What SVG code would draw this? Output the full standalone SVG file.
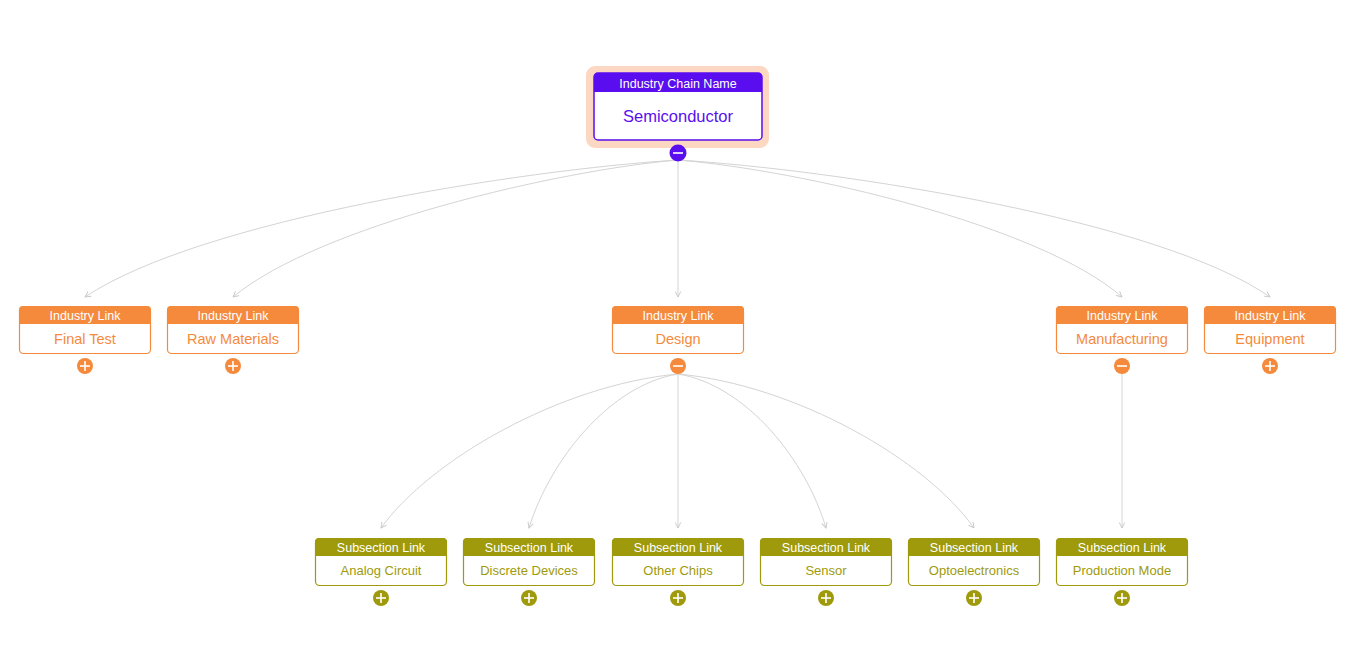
<svg xmlns="http://www.w3.org/2000/svg" width="1358" height="664" viewBox="0 0 1358 664">
<style>
text{font-family:"Liberation Sans",Arial,sans-serif;text-anchor:middle}
.e{fill:none;stroke:#d4d4d4;stroke-width:1}
.ih{fill:#f58a3d}.ib{fill:#fff;stroke:#f58a3d;stroke-width:1.2}
.sh{fill:#9e9a0c}.sb{fill:#fff;stroke:#9e9a0c;stroke-width:1.2}
.ht{fill:#fff;font-size:12.5px}
.it{fill:#f58a3d;font-size:14.5px}
.st{fill:#9e9a0c;font-size:13px}
.bl{stroke:#fff;stroke-width:1.6}
</style>
<defs>
<marker id="a" viewBox="0 0 10 10" refX="9" refY="5" markerWidth="7" markerHeight="7" orient="auto"><path d="M1,1 L9,5 L1,9" fill="none" stroke="#c8c8c8" stroke-width="1.3"/></marker>
<g id="plus"><line class="bl" x1="-5" y1="0" x2="5" y2="0"/><line class="bl" x1="0" y1="-5" x2="0" y2="5"/></g>
</defs>
<g id="connectors">
<path class="e" marker-end="url(#a)" d="M678,160 C520,170 200,220 85,297"/>
<path class="e" marker-end="url(#a)" d="M678,160 C560,170 320,225 233,297"/>
<path class="e" marker-end="url(#a)" d="M678,160 L678,297"/>
<path class="e" marker-end="url(#a)" d="M678,160 C800,170 1040,225 1122,297"/>
<path class="e" marker-end="url(#a)" d="M678,160 C840,170 1160,220 1270,297"/>
<path class="e" marker-end="url(#a)" d="M678,374 C560,385 430,460 381,528"/>
<path class="e" marker-end="url(#a)" d="M678,374 C610,385 550,460 529,528"/>
<path class="e" marker-end="url(#a)" d="M678,374 L678,528"/>
<path class="e" marker-end="url(#a)" d="M678,374 C746,385 806,460 826,528"/>
<path class="e" marker-end="url(#a)" d="M678,374 C796,385 926,460 974,528"/>
<path class="e" marker-end="url(#a)" d="M1122,374 L1122,528"/>
</g>
<g id="root">
<rect x="586" y="66" width="183" height="82" rx="9" fill="#fcd8c2"/>
<rect x="594" y="73" width="168" height="67" rx="4" fill="#fff" stroke="#5a0ef0" stroke-width="1.5"/>
<path d="M594,92 V77 a4,4 0 0 1 4,-4 H758 a4,4 0 0 1 4,4 V92 Z" fill="#5a0ef0"/>
<text class="ht" x="678" y="88">Industry Chain Name</text>
<text x="678" y="122" fill="#5a0ef0" font-size="16.5">Semiconductor</text>
<circle cx="678" cy="153" r="8.5" fill="#5a0ef0"/><line class="bl" x1="673" y1="153" x2="683" y2="153"/>
</g>
<g id="n-final-test">
<rect class="ib" x="19.5" y="306.5" width="131" height="47" rx="4"/><path class="ih" d="M19,324 V310 a4,4 0 0 1 4,-4 H147 a4,4 0 0 1 4,4 V324 Z"/>
<text class="ht" x="85" y="320">Industry Link</text><text class="it" x="85" y="344">Final Test</text>
<circle cx="85" cy="366" r="8" class="ih"/><use href="#plus" x="85" y="366"/></g>
<g id="n-raw-materials">
<rect class="ib" x="167.5" y="306.5" width="131" height="47" rx="4"/><path class="ih" d="M167,324 V310 a4,4 0 0 1 4,-4 H295 a4,4 0 0 1 4,4 V324 Z"/>
<text class="ht" x="233" y="320">Industry Link</text><text class="it" x="233" y="344">Raw Materials</text>
<circle cx="233" cy="366" r="8" class="ih"/><use href="#plus" x="233" y="366"/></g>
<g id="n-design">
<rect class="ib" x="612.5" y="306.5" width="131" height="47" rx="4"/><path class="ih" d="M612,324 V310 a4,4 0 0 1 4,-4 H740 a4,4 0 0 1 4,4 V324 Z"/>
<text class="ht" x="678" y="320">Industry Link</text><text class="it" x="678" y="344">Design</text>
<circle cx="678" cy="366" r="8" class="ih"/><line class="bl" x1="673" y1="366" x2="683" y2="366"/></g>
<g id="n-manufacturing">
<rect class="ib" x="1056.5" y="306.5" width="131" height="47" rx="4"/><path class="ih" d="M1056,324 V310 a4,4 0 0 1 4,-4 H1184 a4,4 0 0 1 4,4 V324 Z"/>
<text class="ht" x="1122" y="320">Industry Link</text><text class="it" x="1122" y="344">Manufacturing</text>
<circle cx="1122" cy="366" r="8" class="ih"/><line class="bl" x1="1117" y1="366" x2="1127" y2="366"/></g>
<g id="n-equipment">
<rect class="ib" x="1204.5" y="306.5" width="131" height="47" rx="4"/><path class="ih" d="M1204,324 V310 a4,4 0 0 1 4,-4 H1332 a4,4 0 0 1 4,4 V324 Z"/>
<text class="ht" x="1270" y="320">Industry Link</text><text class="it" x="1270" y="344">Equipment</text>
<circle cx="1270" cy="366" r="8" class="ih"/><use href="#plus" x="1270" y="366"/></g>
<g id="s-analog">
<rect class="sb" x="315.5" y="538.5" width="131" height="47" rx="4"/><path class="sh" d="M315,556 V542 a4,4 0 0 1 4,-4 H443 a4,4 0 0 1 4,4 V556 Z"/>
<text class="ht" x="381" y="552">Subsection Link</text><text class="st" x="381" y="575">Analog Circuit</text>
<circle cx="381" cy="598" r="8" class="sh"/><use href="#plus" x="381" y="598"/></g>
<g id="s-discrete">
<rect class="sb" x="463.5" y="538.5" width="131" height="47" rx="4"/><path class="sh" d="M463,556 V542 a4,4 0 0 1 4,-4 H591 a4,4 0 0 1 4,4 V556 Z"/>
<text class="ht" x="529" y="552">Subsection Link</text><text class="st" x="529" y="575">Discrete Devices</text>
<circle cx="529" cy="598" r="8" class="sh"/><use href="#plus" x="529" y="598"/></g>
<g id="s-other">
<rect class="sb" x="612.5" y="538.5" width="131" height="47" rx="4"/><path class="sh" d="M612,556 V542 a4,4 0 0 1 4,-4 H740 a4,4 0 0 1 4,4 V556 Z"/>
<text class="ht" x="678" y="552">Subsection Link</text><text class="st" x="678" y="575">Other Chips</text>
<circle cx="678" cy="598" r="8" class="sh"/><use href="#plus" x="678" y="598"/></g>
<g id="s-sensor">
<rect class="sb" x="760.5" y="538.5" width="131" height="47" rx="4"/><path class="sh" d="M760,556 V542 a4,4 0 0 1 4,-4 H888 a4,4 0 0 1 4,4 V556 Z"/>
<text class="ht" x="826" y="552">Subsection Link</text><text class="st" x="826" y="575">Sensor</text>
<circle cx="826" cy="598" r="8" class="sh"/><use href="#plus" x="826" y="598"/></g>
<g id="s-opto">
<rect class="sb" x="908.5" y="538.5" width="131" height="47" rx="4"/><path class="sh" d="M908,556 V542 a4,4 0 0 1 4,-4 H1036 a4,4 0 0 1 4,4 V556 Z"/>
<text class="ht" x="974" y="552">Subsection Link</text><text class="st" x="974" y="575">Optoelectronics</text>
<circle cx="974" cy="598" r="8" class="sh"/><use href="#plus" x="974" y="598"/></g>
<g id="s-production">
<rect class="sb" x="1056.5" y="538.5" width="131" height="47" rx="4"/><path class="sh" d="M1056,556 V542 a4,4 0 0 1 4,-4 H1184 a4,4 0 0 1 4,4 V556 Z"/>
<text class="ht" x="1122" y="552">Subsection Link</text><text class="st" x="1122" y="575">Production Mode</text>
<circle cx="1122" cy="598" r="8" class="sh"/><use href="#plus" x="1122" y="598"/></g>
</svg>
